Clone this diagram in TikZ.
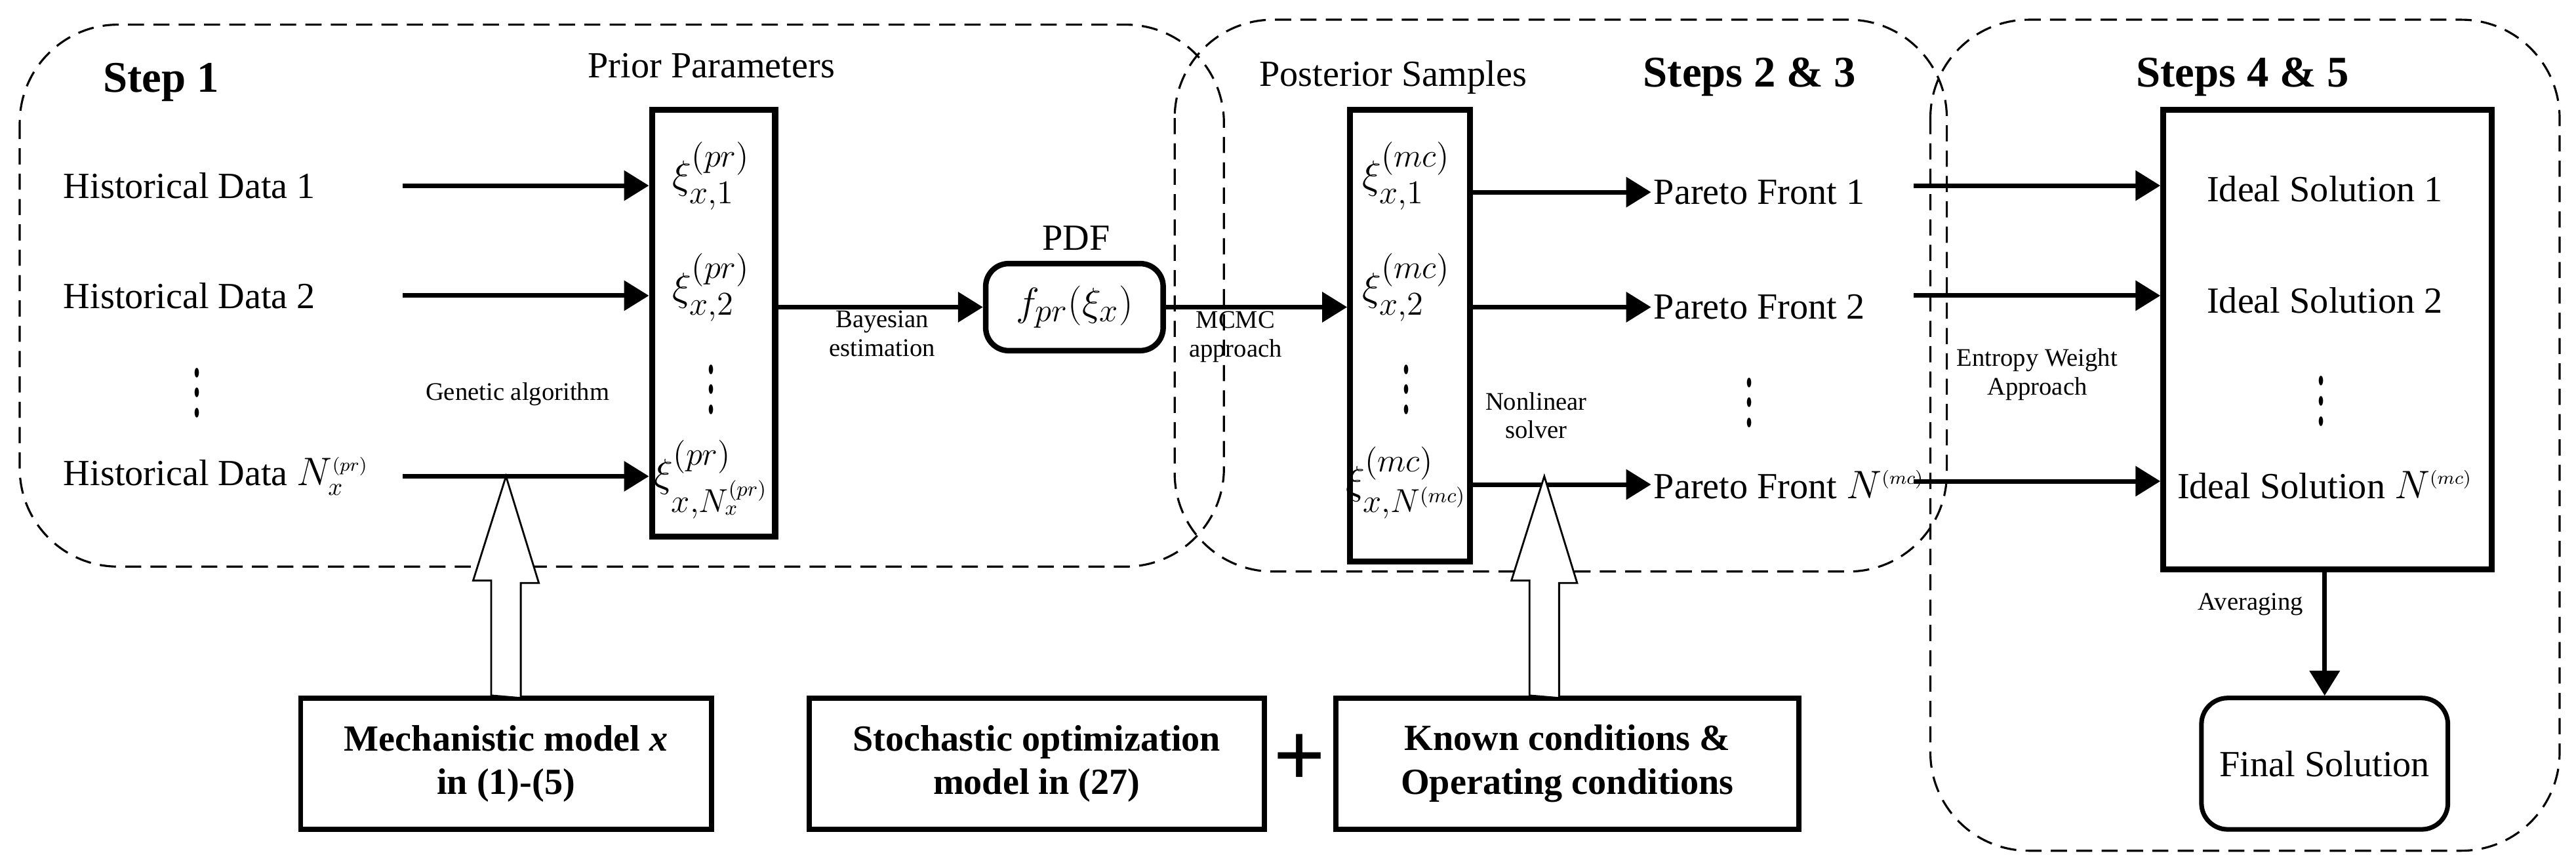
\documentclass[tikz,border=0pt]{standalone}
\usepackage{amsmath,amssymb}
\usepackage{fontspec}
\setmainfont{Liberation Serif}
\usetikzlibrary{positioning,arrows.meta}
\newcommand{\tdots}{\scalebox{1}[2.2]{$\vdots$}}
\newcommand{\smc}{^{\scriptscriptstyle(mc)}}

\begin{document}
\begin{tikzpicture}[
				x=0.02505cm, y=-0.02505cm,
				txt/.style={
					font=\fontsize{16}{18}\selectfont,
					inner sep=1pt
				},
				sym/.style={
					font=\fontsize{19}{21}\selectfont,
					inner sep=1pt
				},
				small/.style={
					font=\fontsize{11}{12.5}\selectfont,
					align=center,
					inner sep=1pt
				},
				head/.style={
					font=\fontsize{19}{21}\selectfont\bfseries,
					inner sep=1pt
				},
				stage/.style={
					draw=black,
					dashed,
					line width=0.9pt,
					dash pattern=on 7pt off 4pt,
					rounded corners=1.5cm
				},
				column/.style={
					rectangle,
					draw=black,
					line width=2.6pt,
					anchor=north west
				},
				model/.style={
					rectangle,
					draw=black,
					line width=2.2pt,
					align=center,
					font=\fontsize{16}{19}\selectfont\bfseries
				},
				arrow/.style={
					-{Triangle[length=0.38cm,width=0.45cm]},
					line width=2pt
				},
				hollow/.style={
					draw=black,
					line width=0.8pt,
					fill=white
				}
			]
			\useasboundingbox (0,0) rectangle (1568,528.5);
			% Dashed stage frames
			\draw[stage] (12,15) rectangle (745,345);
			\draw[stage] (715,12) rectangle (1185,348);
			\draw[stage] (1175,12) rectangle (1558,518);
			\node[head] (step1) at (98,50) {Step 1};
			\node[head] (step23) at (1065,47) {Steps 2 \& 3};
			\node[head] (step45) at (1365,47) {Steps 4 \& 5};
			
			% Step 1
			\node[txt] (prtitle) at (433,40) {Prior Parameters};
			\node[column, minimum width=75*0.02505cm, minimum height=260*0.02505cm] (prior) at (395,65) {};
			\node[txt, anchor=west] (hist1) at (37,113) {Historical Data 1};
			\node[txt, anchor=west] (hist2) at (37,180) {Historical Data 2};
			\node[txt] (histdots) at (120,230) {\tdots};
			\node[txt, anchor=west] (histn) at (37,290) {Historical Data $N_x^{\scriptscriptstyle(pr)}$};
			\coordinate (h1) at (245,113);
			\coordinate (h2) at (245,180);
			\coordinate (hn) at (245,290);
			\node[sym] (xip1) at (433,107) {$\xi_{x,1}^{(pr)}$};
			\node[sym] (xip2) at (433,175) {$\xi_{x,2}^{(pr)}$};
			\node[txt] (xipdots) at (433,228) {\tdots};
			\node[sym] (xipn) at (433,292) {$\xi_{x,N_x^{\scriptscriptstyle(pr)}}^{(pr)}$};
			\node[small] (ga) at (315,240) {Genetic algorithm};
			\draw[arrow] (h1) -- (prior.west |- h1);
			\draw[arrow] (h2) -- (prior.west |- h2);
			\draw[arrow] (hn) -- (prior.west |- hn);
			
			% PDF
			\node[txt] (pdftitle) at (655,145) {PDF};
			\node[draw=black, line width=2.4pt, rounded corners=0.35cm, minimum width=108*0.02505cm, minimum height=53*0.02505cm, sym] (pdf) at (654,187) {$f_{pr}(\xi_x)$};
			\node[small] (bayes) at (537,203) {Bayesian\\estimation};
			\draw[arrow] (prior.east |- pdf) -- (pdf);
			
			% Steps 2 & 3
			\node[txt] (potitle) at (848,47) {Posterior Samples};
			\node[column, minimum width=73*0.02505cm, minimum height=275*0.02505cm] (post) at (820,65) {};
			\node[small] (mcmc) at (752,205) {MCMC\\approach};
			\draw[arrow] (pdf) -- (post.west |- pdf);
			\node[sym] (xim1) at (856,107) {$\xi_{x,1}^{(mc)}$};
			\node[sym] (xim2) at (856,175) {$\xi_{x,2}^{(mc)}$};
			\node[txt] (ximdots) at (856,228) {\tdots};
			\node[sym] (ximn) at (856,294) {$\xi_{x,N^{\scriptscriptstyle(mc)}}^{(mc)}$};
			\node[txt, anchor=west] (pf1) at (1005,117) {Pareto Front 1};
			\node[txt, anchor=west] (pf2) at (1005,187) {Pareto Front 2};
			\node[txt] (pfdots) at (1065,236) {\tdots};
			\node[txt, anchor=west] (pfn) at (1005,295) {Pareto Front $N\smc$};
			\node[small] (solver) at (935,253) {Nonlinear\\solver};
			\draw[arrow] (post.east |- pf1) -- (pf1.west);
			\draw[arrow] (post.east |- pf2) -- (pf2.west);
			\draw[arrow] (post.east |- pfn) -- (pfn.west);
			
			% Steps 4 & 5
			\node[column, minimum width=200*0.02505cm, minimum height=280*0.02505cm] (ideal) at (1315,65) {};
			\node[txt] (is1) at (1415,115) {Ideal Solution 1};
			\node[txt] (is2) at (1415,183) {Ideal Solution 2};
			\node[txt] (isdots) at (1413,235) {\tdots};
			\node[txt] (isn) at (1415,295) {Ideal Solution $N\smc$};
			\coordinate (e1) at (1165,113);
			\coordinate (e2) at (1165,180);
			\coordinate (en) at (1165,293);
			\draw[arrow] (e1) -- (ideal.west |- e1);
			\draw[arrow] (e2) -- (ideal.west |- e2);
			\draw[arrow] (en) -- (ideal.west |- en);
			\node[small] (entropy) at (1240,228) {Entropy Weight\\Approach};
			\node[draw=black, line width=2pt, rounded corners=0.4cm, minimum width=150*0.02505cm, minimum height=80*0.02505cm, txt] (final) at (1415,465) {Final Solution};
			\node[small] (avg) at (1370,368) {Averaging};
			\draw[arrow] (ideal.south -| final) -- (final);
			
			% Models
			\node[model, minimum width=250*0.02505cm, minimum height=80*0.02505cm] (mech) at (308,465) {Mechanistic model \textit{x}\\in (1)-(5)};
			\node[model, minimum width=277*0.02505cm, minimum height=80*0.02505cm] (stoch) at (631,465) {Stochastic optimization\\model in (27)};
			\node[model, minimum width=282*0.02505cm, minimum height=80*0.02505cm] (known) at (954,465) {Known conditions \&\\Operating conditions};
			\node[font=\fontsize{40}{40}\selectfont\bfseries] (plus) at (791,463) {+};
			\draw[hollow] (mech.north) ++(-9,0) -- ++(0,-70) -- ++(-11,0) -- (308,290) -- (328,355) -- ++(-11,0) -- ++(0,70) -- cycle;
			\draw[hollow] (known.north -| 940,0) ++(-9,0) -- ++(0,-70) -- ++(-11,0) -- (940,290) -- (960,355) -- ++(-11,0) -- ++(0,70) -- cycle;
		\end{tikzpicture}
\end{document}
